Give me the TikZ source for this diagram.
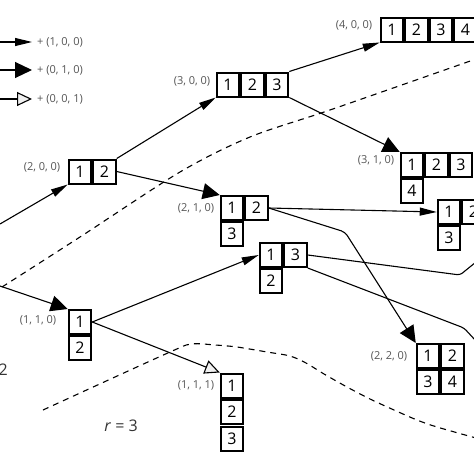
\documentclass[tikz,border=0pt]{standalone}
\usepackage{fontspec}
\setmainfont{Open Sans}
\usetikzlibrary{arrows.meta}
\definecolor{labgray}{HTML}{555555}
\definecolor{rgray}{HTML}{333333}
\begin{document}
\begin{tikzpicture}[x=1pt,y=-1pt,
  cell/.style={draw, line width=2pt, minimum width=22.5pt, minimum height=24pt, inner sep=0pt,
    font=\fontsize{16}{16}\selectfont, fill=white},
  lab/.style={text=labgray, font=\fontsize{11}{12}\selectfont, inner sep=0pt},
  con/.style={line width=1.1pt},
  nar/.style={-{Triangle[length=17pt,width=8pt]}},
  wid/.style={-{Triangle[length=17pt,width=16pt]}},
  opn/.style={-{Triangle[open,length=15pt,width=14pt,fill=gray!12]}},
  dsh/.style={dash pattern=on 6pt off 5pt, line width=1.1pt}
]
\useasboundingbox (0,0) rectangle (474,474);
\clip (0,0) rectangle (474,474);

% dashed boundaries
\draw[dsh] plot[smooth, tension=0.5] coordinates {(2,287) (80,237) (180,172) (250,137) (330,110) (476,59)};
\draw[dsh] plot[smooth, tension=0.5] coordinates {(43,410) (170,352) (192,344) (215,345) (237,347) (267,352) (290,356) (306,363) (324,374) (347,387) (370,399) (394,410) (417,420) (437,427) (476,438)};

% legend
\coordinate (l1s) at (0,42); \coordinate (l1e) at (32,42);
\coordinate (l2s) at (0,70); \coordinate (l2e) at (32,70);
\coordinate (l3s) at (0,99); \coordinate (l3e) at (32,99);
\draw[con,nar] (l1s) -- (l1e);
\draw[con,wid] (l2s) -- (l2e);
\draw[con,opn] (l3s) -- (l3e);
\node[lab,anchor=west] (t1) at (37,42) {+ (1, 0, 0)};
\node[lab,anchor=west] (t2) at (37,70) {+ (0, 1, 0)};
\node[lab,anchor=west] (t3) at (37,99) {+ (0, 0, 1)};

% tableaux
% (2,0,0)
\node[cell] (a1) at (80,171.5) {1};
\node[cell] (a2) at (104.5,171.5) {2};
\node[lab] (la) at (42,167) {(2, 0, 0)};
% (3,0,0)
\node[cell] (b1) at (228,84.5) {1};
\node[cell] (b2) at (252.5,84.5) {2};
\node[cell] (b3) at (277,84.5) {3};
\node[lab] (lb) at (192,81) {(3, 0, 0)};
% (4,0,0)
\node[cell] (c1) at (392,29.5) {1};
\node[cell] (c2) at (416.5,29.5) {2};
\node[cell] (c3) at (441,29.5) {3};
\node[cell] (c4) at (465.5,29.5) {4};
\node[lab] (lc) at (354,25) {(4, 0, 0)};
% (3,1,0)
\node[cell] (d1) at (412,165) {1};
\node[cell] (d2) at (436.5,165) {2};
\node[cell] (d3) at (461,165) {3};
\node[cell] (d4) at (412,191) {4};
\node[lab] (ld) at (376,160) {(3, 1, 0)};
% (2,1,0)
\node[cell] (e1) at (232,208) {1};
\node[cell] (e2) at (256.5,208) {2};
\node[cell] (e3) at (232,234) {3};
\node[lab] (le) at (196,208) {(2, 1, 0)};
% second (2,1,0) tableau
\node[cell] (f1) at (271,255) {1};
\node[cell] (f3) at (295.5,255) {3};
\node[cell] (f2) at (271,281) {2};
% (1,1,0)
\node[cell] (g1) at (80,322) {1};
\node[cell] (g2) at (80,348) {2};
\node[lab] (lg) at (38,320) {(1, 1, 0)};
% (1,1,1)
\node[cell] (h1) at (232,385.5) {1};
\node[cell] (h2) at (232,412) {2};
\node[cell] (h3) at (232,438.5) {3};
\node[lab] (lh) at (196,385) {(1, 1, 1)};
% (2,2,0)
\node[cell] (k1) at (428,356) {1};
\node[cell] (k2) at (452.5,356) {2};
\node[cell] (k3) at (428,382) {3};
\node[cell] (k4) at (452.5,382) {4};
\node[lab] (lk) at (389,356) {(2, 2, 0)};
% partial tableau at right edge
\node[cell] (m1) at (449,212) {1};
\node[cell] (m2) at (473.5,212) {2};
\node[cell] (m3) at (449,238) {3};

% r labels
\node[text=rgray, font=\fontsize{16}{16}\selectfont, inner sep=0pt] (r3) at (121,426) {\textit{r} = 3};
\node[text=rgray, font=\fontsize{16}{16}\selectfont, inner sep=0pt, anchor=east] (r2) at (8,370) {2};

% free ends at the picture edges
\coordinate (s1) at (0,224);
\coordinate (s2) at (0,286);
\coordinate (p1) at (345,232);
\coordinate (q1) at (460,275);
\coordinate (q2) at (476,262);
\coordinate (u1) at (464,328);
\coordinate (u2) at (476,341);

% connectors
\draw[con,nar] (s1) -- (a1.south west);
\draw[con,nar] (a2.north east) -- (b1.south west);
\draw[con,nar] (b3.north east) -- (c1.south west);
\draw[con,wid] (b3.south east) -- (d1.north west);
\draw[con,wid] (a2.east) -- (e1.north west);
\draw[con,wid] (s2) -- (g1.north west);
\draw[con,nar] (g1.east) -- (f1.west);
\draw[con,opn] (g1.east) -- (h1.north west);
\draw[con,nar] (e2.east) -- (m1.west);
\draw[con,wid,rounded corners=4pt] (e2.east) -- (p1) -- (k1.north west);
\draw[con,rounded corners=3pt] (f3.east) -- (q1) -- (q2);
\draw[con,rounded corners=3pt] (f3.south east) -- (u1) -- (u2);
\end{tikzpicture}
\end{document}
